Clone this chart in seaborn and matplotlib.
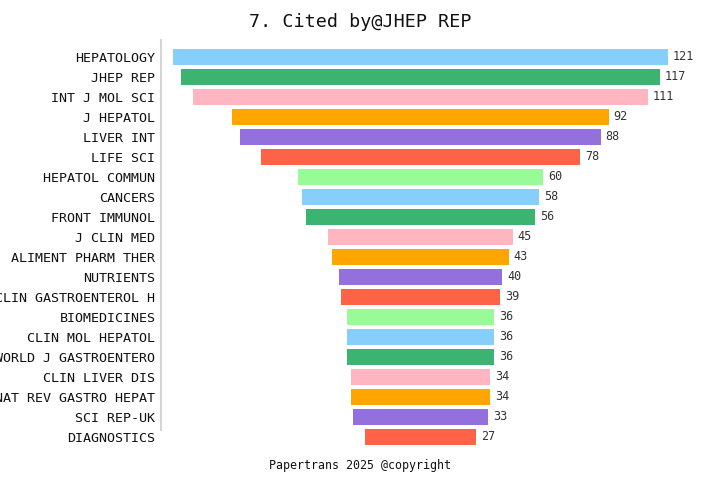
import matplotlib
matplotlib.use("Agg")
import matplotlib.pyplot as plt
import seaborn as sns

# データ
journals = [
    "HEPATOLOGY", "JHEP REP", "INT J MOL SCI", "J HEPATOL", "LIVER INT",
    "LIFE SCI", "HEPATOL COMMUN", "CANCERS", "FRONT IMMUNOL", "J CLIN MED",
    "ALIMENT PHARM THER", "NUTRIENTS", "CLIN GASTROENTEROL H", "BIOMEDICINES",
    "CLIN MOL HEPATOL", "WORLD J GASTROENTERO", "CLIN LIVER DIS",
    "NAT REV GASTRO HEPAT", "SCI REP-UK", "DIAGNOSTICS",
]
counts = [121, 117, 111, 92, 88, 78, 60, 58, 56, 45, 43, 40, 39, 36, 36, 36, 34, 34, 33, 27]
base_colors = ["#87CEFA", "#3CB371", "#FFB6C1", "#FFA500", "#9370DB", "#FF6347", "#98FB98"]
colors = [base_colors[i % len(base_colors)] for i in range(len(journals))]

title = "7. Cited by@JHEP REP"
footer = "Papertrans 2025 @copyright"

sns.set_style("white")
plt.rcParams["font.family"] = ["DejaVu Sans Mono", "DejaVu Sans"]

fig = plt.figure(figsize=(7.2, 4.8), dpi=100)
ax = fig.add_axes([161 / 720, 1 - 455 / 480, 519 / 720, 415 / 480])

sns.barplot(x=counts, y=journals, hue=journals, palette=colors, legend=False,
            orient="h", width=0.8, saturation=1, linewidth=0, ax=ax)

# 中央揃え（ファネル風）
for p, v in zip(ax.patches, counts):
    w = p.get_width()
    p.set_x(-w / 2)
    ax.text(w / 2 + 1.2, p.get_y() + p.get_height() / 2, str(v),
            va="center", ha="left", fontsize=8.5, color="#333333")

ax.set_xlim(-63.4, 63.4)
ax.set_ylim(19.9, -0.85)
ax.set_xticks([])
ax.set_xlabel("")
ax.set_ylabel("")
ax.tick_params(axis="y", length=0, pad=4, labelsize=9.6, labelcolor="#111111")

for s in ["top", "right", "bottom"]:
    ax.spines[s].set_visible(False)
ax.spines["left"].set_color("#d6d6d6")
ax.spines["left"].set_linewidth(1.5)
ax.spines["left"].set_bounds(-0.85, 18.65)

fig.suptitle(title, x=0.5, y=1 - 22 / 480, va="center", fontsize=13.2, color="#111111")
fig.text(0.5, 1 - 465 / 480, footer, ha="center", va="center", fontsize=8.4, color="#111111")

fig.savefig("out.png", dpi=100)
